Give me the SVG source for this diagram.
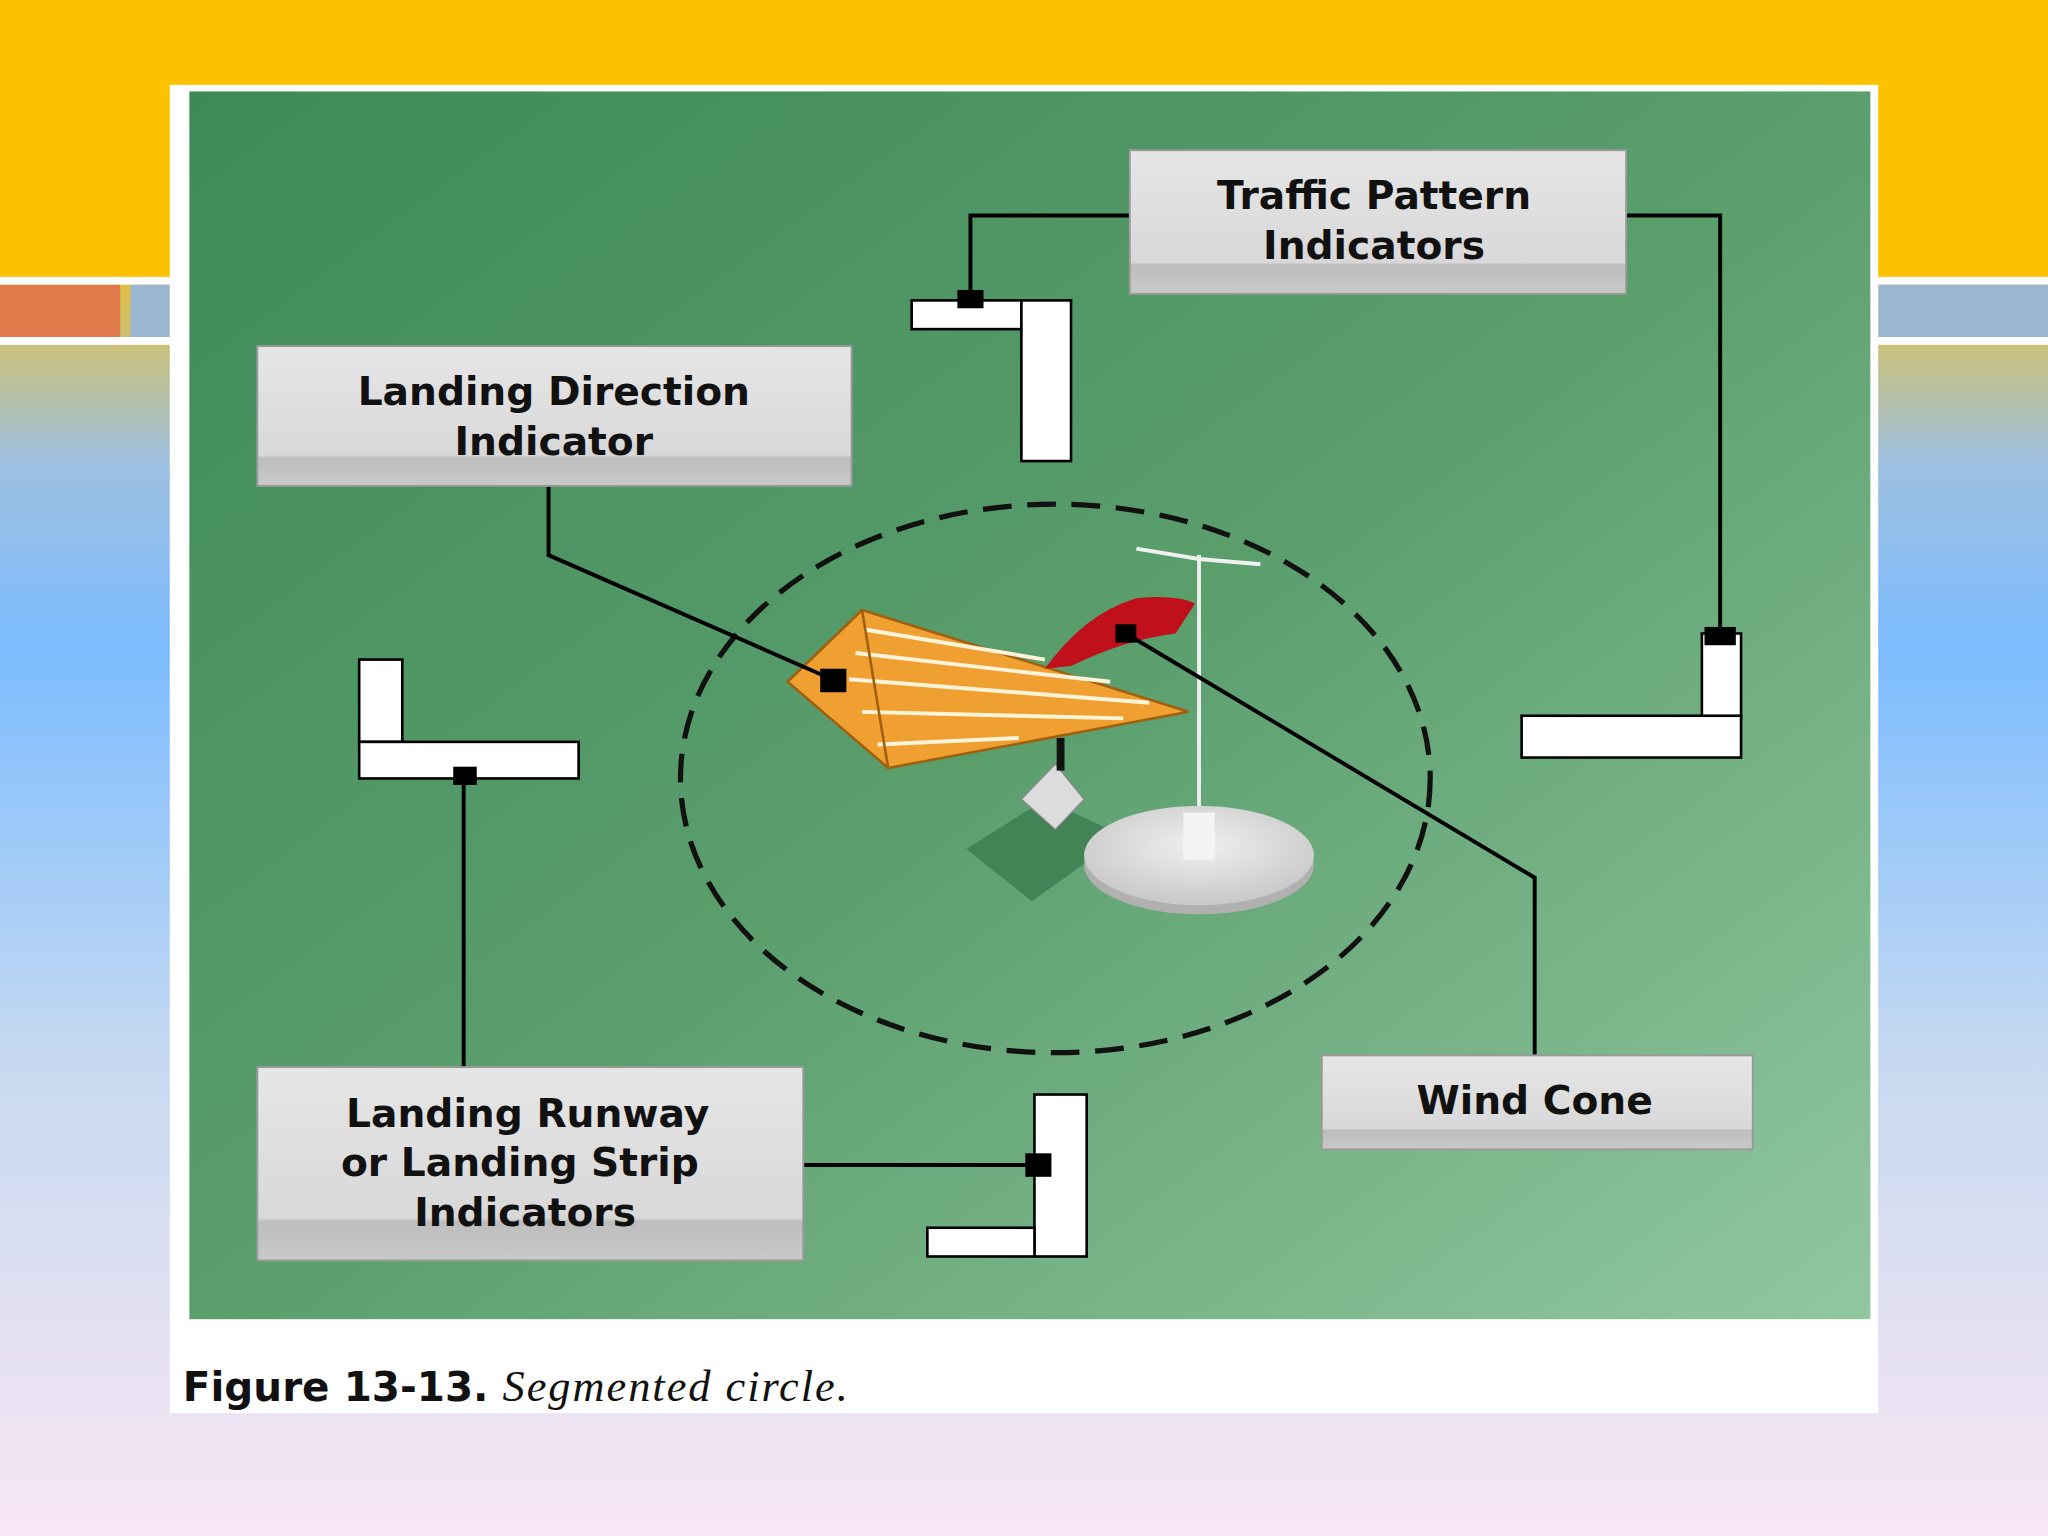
<svg xmlns="http://www.w3.org/2000/svg" width="2048" height="1536" viewBox="0 0 2048 1536">
<defs>
<linearGradient id="bg" x1="0" y1="0" x2="0" y2="1">
<stop offset="0.17" stop-color="#e8c030"/><stop offset="0.3" stop-color="#9fc0e0"/><stop offset="0.42" stop-color="#7cbcff"/><stop offset="0.7" stop-color="#c8daf0"/><stop offset="1" stop-color="#f8e6f4"/>
</linearGradient>
<linearGradient id="gr" x1="0" y1="0" x2="1" y2="1">
<stop offset="0" stop-color="#3d8a58"/><stop offset="0.5" stop-color="#5a9e6c"/><stop offset="1" stop-color="#92c7a0"/>
</linearGradient>
<linearGradient id="box" x1="0" y1="0" x2="0" y2="1">
<stop offset="0" stop-color="#e6e6e6"/><stop offset="0.78" stop-color="#d8d8d8"/><stop offset="0.8" stop-color="#bdbdbd"/><stop offset="1" stop-color="#c9c9c9"/>
</linearGradient>
<radialGradient id="disk" cx="0.5" cy="0.4" r="0.6"><stop offset="0" stop-color="#f0f0f0"/><stop offset="1" stop-color="#c8c8c8"/></radialGradient>
<style>
.lb{fill:url(#box);stroke:#9a9a9a;stroke-width:1.5}
.lt{font-family:"DejaVu Sans",sans-serif;font-weight:bold;font-size:30px;fill:#111;text-anchor:middle}
.ln{fill:none;stroke:#000;stroke-width:3}
.ind{fill:#fff;stroke:#000;stroke-width:2}
.sq{fill:#000}
</style>
</defs>
<g transform="scale(1.30612)">
<rect width="1568" height="1176" fill="url(#bg)"/>
<rect width="1568" height="212" fill="#fcc200"/>
<rect x="0" y="212" width="1568" height="6" fill="#fff"/>
<rect x="0" y="258" width="1568" height="6" fill="#fff"/>
<rect x="0" y="218" width="92" height="40" fill="#e07a4a"/>
<rect x="100" y="218" width="30" height="40" fill="#9bb7d4"/>
<rect x="1438" y="218" width="130" height="40" fill="#9bb7d4"/>
<rect x="130" y="65" width="1308" height="1017" fill="#fff"/>
<rect x="145" y="70" width="1287" height="940" fill="url(#gr)"/>
<text x="140" y="1073" font-family="DejaVu Sans,sans-serif" font-weight="bold" font-size="31" fill="#111">Figure 13-13. <tspan font-family="Liberation Serif,serif" font-style="italic" font-weight="normal" font-size="34" letter-spacing="1.5">Segmented circle.</tspan></text>

<g id="circle">
<ellipse cx="808" cy="596" rx="287" ry="210" fill="none" stroke="#111" stroke-width="4" stroke-dasharray="22,12"/>
<polygon points="740,650 800,612 860,640 790,690" fill="#2f6f45" opacity="0.6"/>
<polygon points="782,612 808,585 830,612 808,635" fill="#dcdcdc" stroke="#888"/>
<line x1="812" y1="565" x2="812" y2="590" stroke="#111" stroke-width="6"/>
<polygon points="660,467 603,522 680,588 910,545" fill="#f0a030" stroke="#a06010" stroke-width="2"/>
<g stroke="#fff3d8" stroke-width="3"><line x1="662" y1="482" x2="800" y2="505"/><line x1="655" y1="500" x2="850" y2="522"/><line x1="650" y1="520" x2="880" y2="538"/><line x1="660" y1="545" x2="860" y2="550"/><line x1="672" y1="570" x2="780" y2="565"/></g>
<line x1="660" y1="467" x2="680" y2="588" stroke="#a06010" stroke-width="2"/>
<line x1="918" y1="425" x2="918" y2="640" stroke="#eee" stroke-width="3"/>
<ellipse cx="918" cy="662" rx="88" ry="38" fill="#b0b0b0"/>
<ellipse cx="918" cy="655" rx="88" ry="38" fill="url(#disk)"/>
<rect x="906" y="622" width="24" height="36" fill="#f4f4f4"/>
<path d="M800,512 Q830,470 870,458 Q900,455 915,462 L900,485 Q860,490 820,510 Z" fill="#c0101c"/>
<path d="M870,420 L918,428 L965,432" stroke="#f0f0f0" stroke-width="3" fill="none"/>
</g>

<g id="indicators">
<rect class="ind" x="698" y="230" width="84" height="22"/><rect class="ind" x="782" y="230" width="38" height="123"/>
<rect class="ind" x="1303" y="485" width="30" height="65"/><rect class="ind" x="1165" y="548" width="168" height="32"/>
<rect class="ind" x="275" y="505" width="33" height="63"/><rect class="ind" x="275" y="568" width="168" height="28"/>
<rect class="ind" x="792" y="838" width="40" height="124"/><rect class="ind" x="710" y="940" width="82" height="22"/>
</g>

<g id="connectors">
<polyline class="ln" points="865,165 743,165 743,228"/>
<polyline class="ln" points="1245,165 1317,165 1317,485"/>
<polyline class="ln" points="420,372 420,425 637,520"/>
<polyline class="ln" points="355,594 355,817"/>
<polyline class="ln" points="615,892 795,892"/>
<polyline class="ln" points="1175,808 1175,672 862,485"/>
<rect class="sq" x="733" y="222" width="20" height="14"/>
<rect class="sq" x="1305" y="480" width="24" height="14"/>
<rect class="sq" x="628" y="512" width="20" height="18"/>
<rect class="sq" x="347" y="587" width="18" height="14"/>
<rect class="sq" x="785" y="883" width="20" height="18"/>
<rect class="sq" x="854" y="478" width="16" height="14"/>
</g>

<g id="traffic"><rect class="lb" x="865" y="115" width="380" height="110"/><text class="lt" x="1052" y="160">Traffic Pattern</text><text class="lt" x="1052" y="198">Indicators</text></g>
<g id="landdir"><rect class="lb" x="197" y="265" width="455" height="107"/><text class="lt" x="424" y="310">Landing Direction</text><text class="lt" x="424" y="348">Indicator</text></g>
<g id="runway"><rect class="lb" x="197" y="817" width="418" height="148"/><text class="lt" x="404" y="863">Landing Runway</text><text class="lt" x="398" y="900">or Landing Strip</text><text class="lt" x="402" y="939">Indicators</text></g>
<g id="windcone"><rect class="lb" x="1012" y="808" width="330" height="72"/><text class="lt" x="1175" y="853">Wind Cone</text></g>
</g>
</svg>
